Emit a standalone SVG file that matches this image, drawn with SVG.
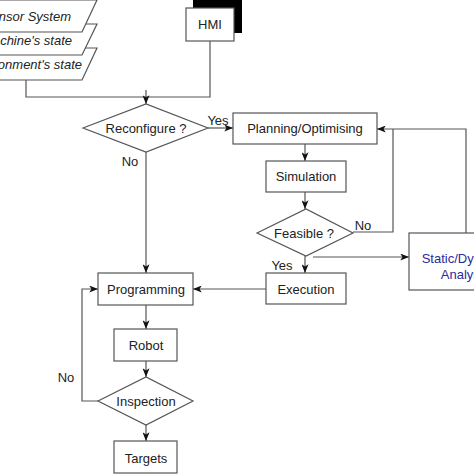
<svg xmlns="http://www.w3.org/2000/svg" width="474" height="474" viewBox="0 0 474 474">
<defs>
<style>
.box{fill:#fff;stroke:#555;stroke-width:1.2}
.ln{fill:none;stroke:#555;stroke-width:1.2}
.t{font-family:"Liberation Sans",Arial,sans-serif;font-size:13px;fill:#222;text-anchor:middle;dominant-baseline:central}
.it{font-family:"Liberation Sans",Arial,sans-serif;font-size:13px;font-style:italic;fill:#222;text-anchor:end;dominant-baseline:central}
.blue{fill:#2b2b9b}
</style>
<marker id="ah" viewBox="0 0 10 8" refX="10" refY="4" markerWidth="9" markerHeight="7" markerUnits="userSpaceOnUse" orient="auto">
<path d="M0,0 L10,4 L0,8 L2.5,4 Z" fill="#111"/>
</marker>
</defs>
<rect width="474" height="474" fill="#fff"/>

<g id="inputs">
<g id="environment">
<polygon class="box" points="-30,48 97,48 82,80 -30,80"/>
<text class="it" x="82" y="64">Environment's state</text>
</g>
<g id="machine">
<polygon class="box" points="-30,24 97,24 82,55 -30,55"/>
<text class="it" x="72" y="40">Machine's state</text>
</g>
<g id="sensor">
<polygon class="box" points="-30,0 97,0 82,32 -30,32"/>
<text class="it" x="71" y="16">Sensor System</text>
</g>
</g>

<g id="hmi">
<rect x="193" y="-5" width="49" height="38" fill="#000"/>
<rect class="box" x="186" y="8" width="48" height="33"/>
<text class="t" x="210" y="24.5">HMI</text>
</g>

<g id="connectors">
<polyline class="ln" points="26,80 26,97 210,97 210,41"/>
<line class="ln" x1="146" y1="90" x2="146" y2="104" marker-end="url(#ah)"/>
<line class="ln" x1="208" y1="128" x2="233" y2="128" marker-end="url(#ah)"/>
<line class="ln" x1="146" y1="152" x2="146" y2="273" marker-end="url(#ah)"/>
<line class="ln" x1="305" y1="144" x2="305" y2="161" marker-end="url(#ah)"/>
<line class="ln" x1="305" y1="192" x2="305" y2="209" marker-end="url(#ah)"/>
<line class="ln" x1="305" y1="256" x2="305" y2="273" marker-end="url(#ah)"/>
<polyline class="ln" points="353,232 393,232 393,129"/>
<polyline class="ln" points="466,233 466,129 377,129" marker-end="url(#ah)"/>
<line class="ln" x1="313" y1="257" x2="409" y2="257" marker-end="url(#ah)"/>
<line class="ln" x1="266" y1="289" x2="193" y2="289" marker-end="url(#ah)"/>
<line class="ln" x1="146" y1="305" x2="146" y2="329" marker-end="url(#ah)"/>
<line class="ln" x1="146" y1="361" x2="146" y2="377" marker-end="url(#ah)"/>
<line class="ln" x1="146" y1="425" x2="146" y2="441" marker-end="url(#ah)"/>
<polyline class="ln" points="98,401 82,401 82,289 98,289" marker-end="url(#ah)"/>
<text class="t" x="218" y="120">Yes</text>
<text class="t" x="130" y="161">No</text>
<text class="t" x="363" y="225">No</text>
<text class="t" x="282" y="265">Yes</text>
<text class="t" x="66" y="377">No</text>
</g>

<g id="reconfigure">
<polygon class="box" points="83,128 146,104 208,128 146,152"/>
<text class="t" x="146" y="128">Reconfigure ?</text>
</g>

<g id="planning">
<rect class="box" x="233" y="113" width="144" height="31"/>
<text class="t" x="305" y="128.5">Planning/Optimising</text>
</g>

<g id="simulation">
<rect class="box" x="266" y="161" width="80" height="31"/>
<text class="t" x="306" y="176.5">Simulation</text>
</g>

<g id="feasible">
<polygon class="box" points="257,233 306,209 353,233 306,256"/>
<text class="t" x="304" y="233">Feasible ?</text>
</g>

<g id="analysis">
<rect class="box" x="409" y="233" width="112" height="57"/>
<text class="t blue" x="465" y="258">Static/Dynamic</text>
<text class="t blue" x="465" y="274">Analysis</text>
</g>

<g id="execution">
<rect class="box" x="266" y="273" width="80" height="31"/>
<text class="t" x="306" y="289">Execution</text>
</g>

<g id="programming">
<rect class="box" x="98" y="273" width="95" height="32"/>
<text class="t" x="146" y="289">Programming</text>
</g>

<g id="robot">
<rect class="box" x="114" y="329" width="63" height="32"/>
<text class="t" x="146" y="345">Robot</text>
</g>

<g id="inspection">
<polygon class="box" points="98,401 146,377 193,401 146,425"/>
<text class="t" x="146" y="401">Inspection</text>
</g>

<g id="targets">
<rect class="box" x="114" y="441" width="63" height="32"/>
<text class="t" x="146" y="458">Targets</text>
</g>
</svg>
